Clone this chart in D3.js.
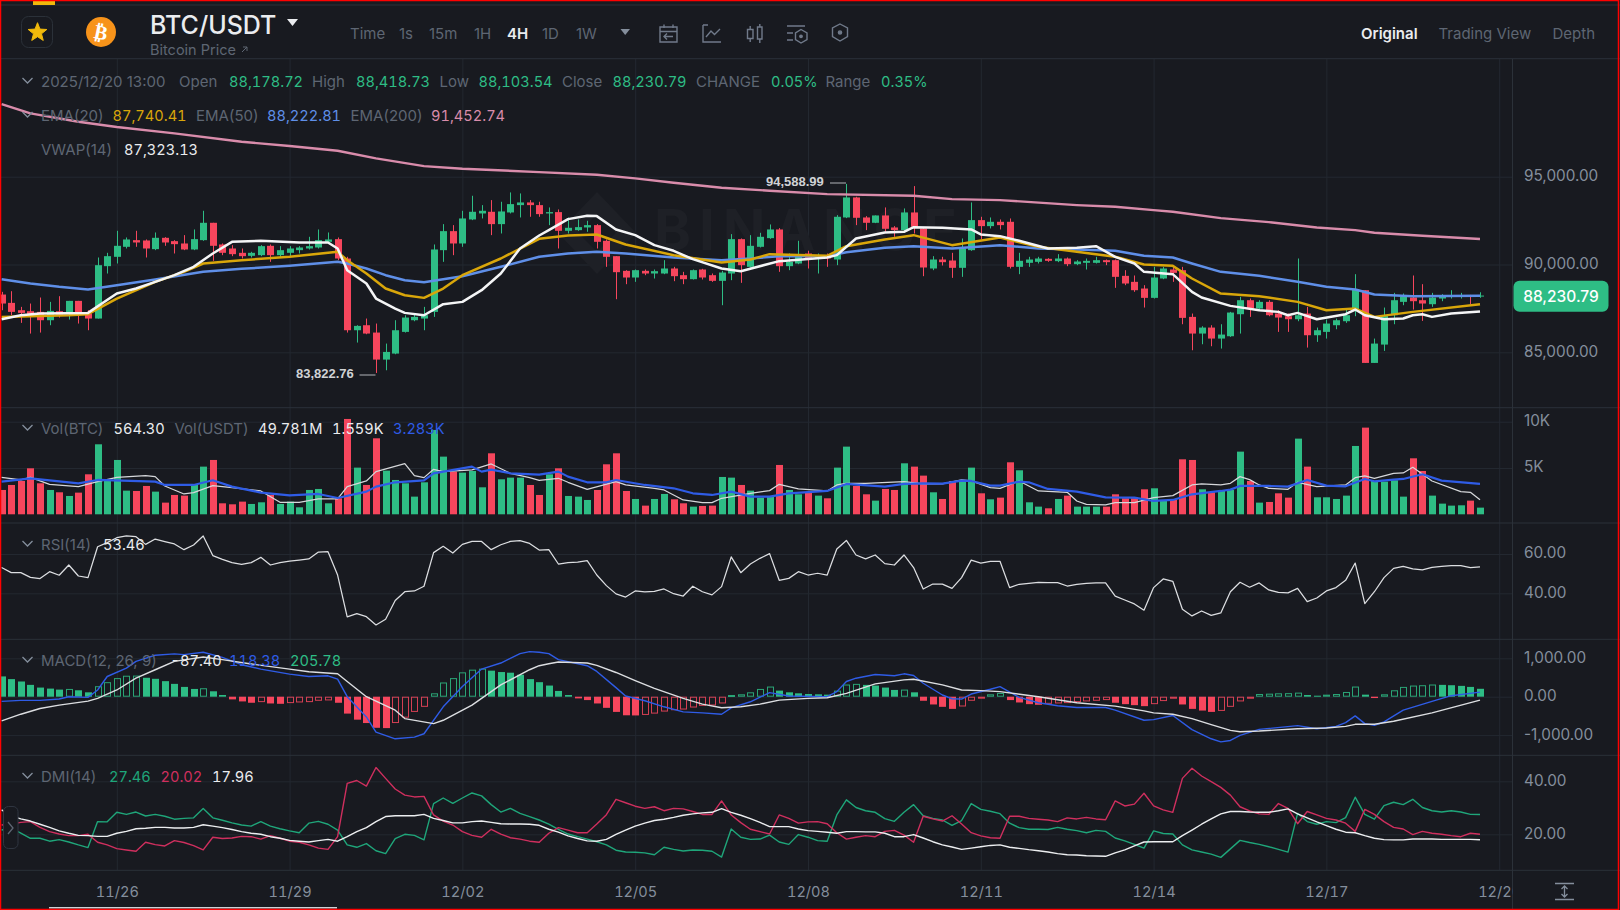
<!DOCTYPE html>
<html><head><meta charset="utf-8">
<script src="https://cdn.jsdelivr.net/npm/d3@7"></script>
<style>
html,body{margin:0;padding:0;background:#181a20;overflow:hidden}
text{font-family:Inter,"Noto Sans",sans-serif}
.tn{font-variant-numeric:tabular-nums}
</style></head><body><svg id="c" width="1620" height="910"></svg>
<script>
const open=[88290,87815,87397,87340,87302,86827,87340,87245,87929,87207,86922,89905,90437,91007,91387,91368,90874,91520,91330,91197,90855,91387,92375,91140,90912,90665,90494,90532,91064,90532,90665,90817,90912,90969,91292,91444,90342,86257,86542,86124,84585,84927,86162,86827,86922,87302,90817,91900,91197,92565,92907,93002,92299,92964,93382,93534,93382,92907,92983,91919,91957,92109,92242,91349,90475,89639,89259,89639,89487,89487,89772,89392,89164,89715,89392,89069,89487,91444,89867,91007,91501,91995,89905,90057,90627,90342,90437,90285,92679,93819,92679,92375,92793,92109,91957,92964,92052,89772,90285,90228,89810,90817,92527,92185,92432,92432,89867,90095,90152,90323,90190,90342,90019,90095,90095,90247,90247,89354,89012,88632,88100,89202,89715,89677,87017,86067,86409,85782,85915,87169,87967,87492,87872,87207,87055,86884,87207,85972,86162,86542,86770,87435,88537,84395,85440,87112,87872,88119,87967,87739,88062,88157,88157,88233,88178.72];
const close=[87777,87302,87245,87112,86827,87359,87150,87929,87207,86922,89962,90475,91064,91425,91254,90912,91520,91254,91159,90855,91444,92375,91064,90665,90589,90475,90665,91045,90532,90817,90912,90969,91045,91387,91425,90342,86257,86504,86067,84585,85022,86257,86979,87017,87112,90855,91900,91197,92622,93002,93059,92299,93021,93439,93534,93382,92869,92983,91919,92090,92128,92242,91292,90437,89563,89259,89677,89487,89620,89772,89335,89164,89677,89259,89069,89544,91444,89962,91064,91577,91995,89905,90152,90589,90342,90437,90342,92717,93819,92660,92375,92793,92033,91957,92964,92147,89829,90285,90133,89810,90912,92527,92185,92432,92242,89867,90209,90285,90342,90209,90342,90019,90171,90209,90247,90133,89297,88917,88537,88100,89259,89772,89525,86960,86067,86409,85782,86010,87264,87967,87492,87872,87112,86979,86884,87112,85972,86257,86637,86827,87112,88575,84395,85497,87112,87967,88157,87910,87777,88119,88176,88252,88233,88157,88230.79];
const high=[88442,88480,87587,87777,88119,87872,88195,87929,87929,87397,90399,90665,91919,91539,91919,91425,91824,91558,91387,91672,91995,93059,92375,91197,91102,90912,90722,91102,91140,91045,91045,91045,91577,91995,91824,91539,90437,86542,86922,86637,85497,86827,87112,87207,87587,91140,92299,92242,93059,93914,93382,93667,93572,94104,94047,93667,93572,93249,93135,92679,92565,92489,92299,91425,90475,89677,89715,89715,89715,90247,89867,89582,89715,89753,89487,89639,91729,91482,91672,91805,92280,92071,90627,91349,90779,90627,90627,92812,94588.99,93857,92755,92793,93249,92185,93192,94465,92109,90475,90437,90665,91482,93534,92717,92679,92565,92622,90665,90437,90437,90361,90589,90399,90247,90342,90437,90285,90285,89677,89373,88822,89867,89867,89867,89867,87207,86485,86542,86599,87302,88157,88062,87967,87967,87397,87207,90342,87587,86409,86865,86922,87492,89449,88537,85782,87549,88385,88347,89373,88879,88385,88309,88537,88385,88271,88418.73];
const low=[87397,87112,86675,86067,86124,86542,86979,86865,86637,86257,86922,89487,90057,90912,91007,90399,90817,91064,90627,90817,90817,91349,90209,90532,90475,90342,90399,90475,90152,90399,90475,90627,90855,90912,91235,90247,86124,85554,86029,83822.76,83977,84889,86124,86770,86257,87017,90152,90532,91007,92527,92622,91672,91767,92907,92679,92717,92717,92242,90912,91767,91919,91862,90912,89867,88024,88879,89012,89392,89202,89449,89050,88879,89145,89145,89012,87682,89107,88955,89829,90969,91463,89582,89677,90019,89772,89487,89867,89962,92641,92242,91957,92356,91862,91577,91919,91767,89335,89677,89943,89240,89297,90779,91425,92052,91995,89772,89449,89867,90057,90152,90133,89905,89962,89715,90057,89962,88670,88822,88442,87549,88062,89164,89012,86599,85117,85459,85345,85212,85877,86067,87017,87397,87055,86162,86162,86770,85269,85592,85782,86314,86675,87055,84395,84395,85079,86599,87682,87435,86789,87587,87910,88062,88062,87739,88103.54];
const volume=[2628,3168,3600,4968,3348,2628,2376,1980,2340,4320,7560,3600,5868,2556,2520,3060,2448,1260,2088,2016,3168,5148,5868,1188,1080,1368,1116,1296,2088,1116,1368,756,2628,2736,1188,1728,10296,5040,3168,8208,4716,3708,3348,1908,3456,9108,6228,4608,4500,4680,2916,6588,3780,3960,3960,3168,2088,4320,4968,1980,1908,1548,2628,5400,6588,2520,1656,936,1656,2196,1620,1188,828,900,936,4032,3960,3168,2556,1800,1908,5328,2628,2160,2376,2016,1728,5040,7308,3060,2160,1476,2736,2628,5508,5148,4176,2376,1656,3600,3708,5040,2268,1620,1800,5616,4752,1296,828,648,1656,2016,828,828,828,828,2160,1728,1728,2700,2808,1548,1548,5940,5868,2700,2376,2520,2628,6768,3600,1260,1332,2268,1800,8172,5148,1836,1836,1656,2016,7380,9360,3600,3528,3672,1908,6048,4680,2016,1152,936,972,1476,720];
const rsi=[53.1,50.5,50.5,48.1,47.5,51.0,49.2,54.4,48.8,48.0,63.7,65.8,68.3,69.2,68.8,64.9,67.6,66.3,65.1,62.2,64.6,69.2,59.2,57.3,55.6,54.7,55.6,58.3,54.4,55.6,56.4,56.9,57.5,61,61.2,49.3,28.0,29.7,28.1,23.9,26.8,36.3,40.8,41.2,43.6,60.7,63.9,60.5,64.9,66.4,66.4,62.2,64.7,66.4,66.8,65.4,62.0,62.2,54.9,55.6,55.9,56.6,49.3,43.9,39.7,38.1,41.2,40.7,41.0,42.2,39.8,38.6,43.6,40.8,39.2,43.4,58.5,50.5,54.9,57.8,60.2,46.6,47.6,51.0,49.3,50.2,49.3,62.5,66.9,59.5,57.5,59.5,55.1,54.4,59.5,53.1,42.2,44.7,44.7,42.5,48.0,56.9,55.4,56.3,56.3,42.9,44.6,45.1,45.6,45.4,45.4,43.7,44.6,45.1,45.3,45.3,38.6,36.6,34.6,31.4,42.9,47.3,46.1,31.9,28.5,31.0,28.8,30.0,40.8,45.6,43.1,45.3,41.7,40.5,40.2,42.5,35.8,37.6,41.2,42.9,46.6,55.4,34.7,40.8,48.0,52.7,53.7,52.4,51.9,53.2,53.7,54.1,54.1,53.1,53.46];
const macdHist=[528,458,396,308,238,211,185,202,167,114,273,378,484,546,550,493,466,405,334,255,202,220,141,44,-70,-123,-158,-141,-176,-185,-167,-150,-141,-106,-97,-158,-440,-598,-686,-810,-818,-686,-546,-396,-264,88,370,484,634,704,730,678,642,625,572,458,378,290,150,44,-44,-88,-176,-290,-396,-484,-488,-475,-440,-387,-352,-334,-282,-238,-229,-176,44,62,114,202,264,158,114,88,70,62,53,158,317,334,308,290,238,176,185,114,-106,-202,-264,-317,-255,-106,-44,62,97,-88,-150,-194,-211,-185,-176,-167,-141,-123,-106,-88,-158,-194,-220,-246,-194,-114,-53,-202,-317,-361,-396,-370,-264,-123,-53,70,79,88,92,106,44,26,53,70,123,264,53,-35,62,167,255,290,299,317,308,299,282,255,205.78];
const dmiPlus=[21.6,22.3,20.4,18.5,18.5,17.4,18.0,17.1,16.0,15.0,24.8,24.7,28.3,27.5,28.4,26.9,27.5,26.8,25.7,26.0,26.2,29.7,26.2,25.3,24.3,23.5,23.1,24.8,23.1,22.1,21.3,20.6,24.2,24.9,23.8,21.6,16.0,15.1,16.5,13.8,12.7,18.4,20.0,19.6,17.9,31.6,33.7,31.7,33.7,35.6,34.5,31.2,28.4,29.8,27.9,26.7,25.4,23.8,21.9,20.1,19.1,18.2,17.2,16.0,14.0,13.3,13.2,13.0,12.3,15.1,14.3,13.7,14.1,14.0,13.6,11.4,22.0,18.9,18.1,18.2,19.7,17.1,16.2,19.9,18.9,17.6,17.4,27.3,33.0,30.1,28.9,28.3,25.9,24.9,28.3,31.2,27.0,26.0,25.4,23.4,25.2,31.6,29.4,28.7,27.8,24.2,22.5,21.9,21.9,21.8,22.6,21.9,21.4,20.6,21.5,21.1,18.6,17.5,16.2,14.8,21.3,20.3,20.1,16.0,14.1,13.3,12.5,11.3,14.5,17.7,16.9,16.2,15.3,14.3,13.3,27.9,24.8,23.8,24.8,24.4,26.3,34.0,27.5,25.7,30.8,32.1,31.2,33.2,30.1,28.9,28.4,28.9,28.4,27.5,27.46];
const dmiMinus=[23.5,23.9,24.5,24.8,22.6,21.0,20.1,19.5,19.5,20.0,17.0,16.0,14.6,14.1,13.6,17.0,16.1,15.6,17.6,16.9,15.7,14.1,18.9,18.4,18.6,19.2,19.1,18.2,19.5,18.5,17.4,17.0,16.0,14.8,14.3,19.1,39.2,40.3,38.2,45.2,41.1,37.1,34.8,34.1,34.3,27.3,25.0,23.5,21.0,19.6,18.9,21.9,20.1,18.7,18.2,17.4,17.0,20.4,22.5,21.6,20.6,20.6,23.9,27.4,33.2,31.9,30.6,29.8,30.4,28.9,29.8,29.6,28.6,27.5,27.5,32.6,27.3,24.4,21.9,21.0,20.1,27.3,26.0,24.2,24.7,24.8,24.0,20.6,18.2,18.9,19.5,19.1,21.1,21.5,19.7,17.0,26.8,25.8,25.0,27.0,23.9,20.6,19.4,18.7,18.5,26.8,26.8,26.0,25.7,25.4,24.8,26.2,25.8,26.4,25.8,25.5,32.6,30.7,31.4,35.5,30.7,29.2,28.3,41.1,44.9,42.0,39.9,37.7,34.8,30.4,28.8,27.7,27.5,31.6,29.8,24.0,28.6,27.3,26.0,25.4,24.2,21.1,29.4,27.5,24.8,22.6,22.0,19.9,21.1,20.4,20.0,19.5,19.1,20.4,20.02];
const dmiAdx=[29.2,26.9,25.8,25.0,23.8,22.6,21.3,20.4,19.6,19.5,19.2,19.2,20.4,21.1,22.1,22.3,22.6,22.6,22.4,22.4,22.6,23.6,23.1,22.5,21.8,21.0,20.4,20.0,19.1,18.5,17.7,17.4,17.1,17.6,18.1,17.4,19.1,21.0,22.5,24.8,26.7,27.0,27.0,27.0,27.5,26.0,25.2,24.3,24.3,24.8,25.0,24.5,24.0,23.9,23.9,23.8,23.4,21.9,20.8,19.4,18.4,17.5,17.4,18.1,20.0,21.6,23.1,24.2,25.2,25.7,26.4,27.2,27.7,28.1,28.3,29.7,28.3,27.2,25.9,24.5,22.9,22.9,22.9,22.0,21.4,21.1,20.8,20.4,21.0,21.0,20.9,20.9,20.4,19.1,19.1,19.9,18.6,17.2,16.0,15.2,14.3,14.8,15.3,15.8,16.0,15.1,14.7,14.2,13.8,13.3,12.7,12.3,12.2,11.9,11.8,11.7,13.0,14.1,15.6,17.1,17.2,17.2,17.2,19.5,21.6,23.8,25.8,27.7,28.6,28.6,28.4,28.3,28.3,28.9,29.6,27.7,26.2,24.7,23.3,21.9,20.8,20.6,19.5,18.5,18.0,17.9,17.9,18.2,18.2,18.2,18.1,18.1,18.1,18.1,17.96];

const ema200Idx=[0,3,8,12,18,25,30,35,39,44,48,56,62,66,70,75,80,86,95,99,104,112,116,120,122,127,132,137,141,143,148,154];
const ema200Val=[99139,98607,98132,97828,97467,96992,96745,96479,96042,95605,95453,95263,95111,94902,94655,94370,94199,94009,93914,93724,93667,93382,93287,93097,93002,92641,92413,92109,91957,91805,91634,91452.74];
const ema50Idx=[0,3,6,9,12,16,21,25,30,35,36,38,40,42,44,48,52,56,59,62,65,70,75,78,81,86,88,92,95,99,104,108,112,116,119,122,124,127,131,135,138,141,143,147,154];
const ema50Val=[89164,88917,88727,88575,88822,89145,89582,89753,89924,90152,90057,89772,89392,89107,88993,89335,89867,90437,90627,90722,90627,90399,90247,90342,90475,90475,90703,90950,91045,90912,91102,90912,90855,90779,90494,90399,90057,89582,89354,89012,88727,88575,88290,88195,88222.81];
const ema20Idx=[0,3,7,9,12,16,19,21,25,30,35,36,38,40,42,44,46,48,52,56,59,62,65,70,75,78,80,86,88,92,95,99,104,108,112,116,119,122,124,127,131,135,138,141,143,147,154];
const ema20Val=[87017,87055,87112,87169,88062,89012,89582,90057,90247,90437,90722,90247,89487,88632,88252,88100,88632,89392,90342,91463,91653,91710,91140,90532,90114,90285,90589,90494,91045,91425,91672,91102,91539,91007,90722,90437,90000,89924,89202,88347,88195,87872,87397,87492,87017,87302,87740.41];
const vwapIdx=[0,2,4,9,12,14,16,18,20,22,24,27,31,34,35,36,38,39,41,42,44,46,48,50,52,54,56,57,59,61,62,64,66,68,70,72,75,77,81,86,87,89,92,94,95,98,101,102,104,106,109,112,114,116,118,119,122,124,125,128,131,133,134,135,137,140,141,142,144,146,147,148,149,151,154];
const vwapVal=[86884,87112,87207,87245,88347,88632,89012,89392,89867,90627,91292,91349,91254,91254,90912,89677,88917,88062,87492,87245,87112,87739,87872,88537,89487,90912,91653,91957,92584,92774,92755,91995,91672,91102,90779,90304,89772,89620,90190,90399,90532,91482,91824,91862,92128,92090,91995,91710,91615,91349,90912,90950,91045,90437,90057,89582,89449,88442,88119,87644,87397,87302,87112,87245,86884,87169,87435,87112,86884,86922,87112,87169,87017,87207,87323.13];
const volMaFastIdx=[0,2,3,5,8,10,12,15,16,17,19,20,22,24,27,29,31,33,35,36,38,39,42,43,44,45,46,49,51,53,55,56,58,59,61,64,65,68,69,71,73,74,75,78,80,81,83,86,87,88,90,94,96,98,100,101,103,104,106,108,111,112,113,115,116,118,120,122,124,125,127,128,129,130,131,132,134,135,137,140,141,142,143,145,146,147,149,152,153,154];
const volMaFastVal=[3996,3708,3996,3240,2988,3528,3996,4176,4068,3060,2196,2340,3096,2880,2520,1296,1296,1656,1656,2988,3600,4608,5472,4176,3960,4860,4608,4788,5436,4428,3960,3672,3888,3456,2700,3528,3168,2808,2628,1548,1260,1260,1728,2268,2556,3240,2736,2520,3168,3348,3348,3528,3276,3276,3708,3600,2880,2808,3600,2520,2376,1440,1080,1008,1260,1260,1800,2016,3168,3276,3168,3348,4068,3744,3168,2808,2700,3456,2988,3168,3960,4140,3888,4428,4464,5076,3600,2448,2376,1559];
const volMaSlowIdx=[0,3,5,8,10,16,17,20,22,24,27,30,33,35,38,39,41,44,45,49,50,51,53,56,58,59,61,63,64,67,70,72,74,76,78,80,82,86,88,92,94,96,98,100,101,103,104,106,107,109,112,115,118,120,122,124,127,128,129,132,134,136,138,140,142,143,145,146,148,150,154];
const volMaSlowVal=[3528,3888,3672,3348,3708,3528,3168,3168,3672,2988,2340,2052,2196,1764,2448,2988,3456,3672,4428,5148,4608,4824,4428,4284,4608,4068,3456,3456,3708,3168,2808,2268,2088,2448,1908,1908,2268,2520,3276,2988,3276,3348,3312,3636,3600,3096,3096,3528,3456,2736,2448,1836,1800,1440,1548,2160,2520,2664,3060,3060,2988,3708,3096,3024,3816,3564,3744,3816,4320,3636,3283];
const macdDifIdx=[0,2,4,6,7,9,10,11,13,14,16,18,19,21,23,25,27,30,32,34,35,36,38,39,41,43,44,46,48,50,52,54,55,56,57,58,61,62,64,65,67,69,71,73,75,76,78,80,82,86,87,88,89,91,93,94,95,96,98,99,100,101,103,104,106,108,110,112,115,116,119,120,122,124,126,127,128,129,131,135,137,139,140,141,142,143,144,146,149,151,154];
const macdDifVal=[-123,-96,-96,-61,0,-18,175,526,745,921,1079,1114,1096,1158,1026,833,719,588,526,544,456,0,-526,-921,-1096,-1052,-965,-263,263,719,877,1123,1175,1158,1123,965,807,658,237,18,-105,-263,-395,-421,-456,-289,-132,105,18,0,132,395,482,579,544,596,553,351,44,-53,-61,70,193,263,-18,-158,-237,-281,-281,-351,-614,-596,-491,-859,-1096,-1175,-1140,-1009,-851,-754,-833,-772,-675,-500,-702,-745,-658,-351,-123,26,118.38];
const macdDeaIdx=[0,2,4,6,9,10,12,14,16,18,21,23,26,30,32,35,36,38,41,42,45,46,49,52,55,56,57,58,61,62,64,66,68,71,73,75,77,79,81,84,86,88,91,94,95,98,100,102,104,108,112,116,119,120,122,124,126,128,129,131,135,138,140,141,143,145,149,154];
const macdDeaVal=[-631,-456,-307,-219,-114,-44,175,482,702,921,1035,965,851,719,649,596,395,0,-351,-570,-702,-614,-219,307,702,807,859,903,877,816,631,421,219,-44,-193,-289,-263,-193,-88,-44,-26,88,333,438,456,307,175,158,132,0,-158,-246,-368,-421,-456,-570,-728,-877,-912,-895,-833,-816,-772,-719,-719,-640,-421,-87.4];

const xTickIdx=[12,30,48,66,84,102,120,138,156];
const xTickLabels=["11/26","11/29","12/02","12/05","12/08","12/11","12/14","12/17","12/20"];
const priceTicks=[85000,90000,95000];
const volumeTicks=[5000,10000];
const rsiTicks=[40,60];
const macdTicks=[-1000,0,1000];
const dmiTicks=[20,40];

const C={bg:"#181a20",grid:"#232830",sep:"#2b3139",up:"#2ebd85",dn:"#f6465d",ema20:"#d9a60a",ema50:"#5f8fe8",ema200:"#d98cab",blue:"#2f5ce6",dGreen:"#1fa67a",dRed:"#cf2f5e",label:"#5e6673",axis:"#848e9c",white:"#eaecef"};
const W=1620,H=910,plotR=1512.5;
const svg=d3.select("#c");
const defs=svg.append("defs");
defs.append("clipPath").attr("id","plot").append("rect").attr("x",1).attr("y",59).attr("width",plotR-1).attr("height",812);
defs.append("clipPath").attr("id","xlab").append("rect").attr("x",1).attr("y",871).attr("width",plotR-1).attr("height",38);
svg.append("rect").attr("width",W).attr("height",H).attr("fill",C.bg);

const n=close.length;
const idx=d3.range(n);
const x=d3.scaleLinear().domain([0,154]).range([1.6,1480]);
const yP=d3.scaleLinear().domain([85000,95000]).range([352.3,176.7]);
const yV=d3.scaleLinear().domain([0,5000]).range([514.3,468]);
const yR=d3.scaleLinear().domain([40,60]).range([593.3,554]);
const yM=d3.scaleLinear().domain([0,1000]).range([696.7,658.3]);
const yD=d3.scaleLinear().domain([20,40]).range([834.3,781.3]);
const panels=[[yP,priceTicks,d3.format(",.2f")],[yV,volumeTicks,d=>(d/1000)+"K"],[yR,rsiTicks,d3.format(".2f")],[yM,macdTicks,d=>d3.format(",.2f")(d).replace("−","-")],[yD,dmiTicks,d3.format(".2f")]];

// grid through axes
const gridX=svg.append("g").attr("transform","translate(0,59)").call(d3.axisBottom(x).tickValues(xTickIdx).tickSize(811).tickFormat(""));
gridX.select(".domain").remove();
gridX.selectAll("line").attr("stroke",C.grid);
panels.forEach(([s,t,f])=>{
  const g=svg.append("g").attr("transform",`translate(${plotR},0)`).call(d3.axisLeft(s).tickValues(t).tickSize(plotR).tickFormat(""));
  g.select(".domain").remove(); g.selectAll("line").attr("stroke",C.grid);
  const a=svg.append("g").attr("transform","translate(1524,0)").call(d3.axisRight(s).tickValues(t).tickSize(0).tickPadding(0).tickFormat(f));
  a.select(".domain").remove();
  a.selectAll("text").attr("fill",C.axis).attr("font-size",15.3).attr("dy","0.26em");
});
// chrome lines
const seps=[5,58.7,407.7,523,639.3,755.3,870.3];
svg.append("g").selectAll("line").data(seps).join("line").attr("x1",0).attr("x2",W).attr("y1",d=>d).attr("y2",d=>d).attr("stroke",C.sep);
svg.append("line").attr("x1",plotR).attr("x2",plotR).attr("y1",59).attr("y2",H).attr("stroke",C.sep);

// watermark
const wm=svg.append("g").attr("fill","#1e2026");
wm.append("path").attr("d","M597 192 L636 233 L597 274 L558 233Z M597 214 L578 233 L597 252 L616 233Z").attr("fill-rule","evenodd");
wm.append("text").attr("x",654).attr("y",250).attr("font-size",56).attr("font-weight",700).attr("textLength",303).text("BINANCE");

const plot=svg.append("g").attr("clip-path","url(#plot)");
const col=i=>close[i]>=open[i]?C.up:C.dn;
const bw=7;
// candles
const cg=plot.append("g");
cg.selectAll("line").data(idx).join("line")
 .attr("x1",i=>Math.round(x(i))+.5).attr("x2",i=>Math.round(x(i))+.5)
 .attr("y1",i=>yP(high[i])).attr("y2",i=>yP(low[i])).attr("stroke",col);
cg.selectAll("rect").data(idx).join("rect")
 .attr("x",i=>Math.round(x(i))-3).attr("width",bw)
 .attr("y",i=>yP(Math.max(open[i],close[i])))
 .attr("height",i=>Math.max(1,Math.abs(yP(open[i])-yP(close[i])))).attr("fill",col);
// price lines
const sparse=(a,b)=>d3.zip(a,b);
const path=(g,data,ys,color,w,op)=>g.append("path").datum(data).attr("fill","none").attr("stroke",color).attr("stroke-width",w).attr("stroke-linejoin","round").attr("opacity",op||1)
  .attr("d",d3.line().x(d=>x(d[0])).y(d=>ys(d[1])));
path(plot,sparse(ema200Idx,ema200Val),yP,C.ema200,2.4);
path(plot,sparse(ema50Idx,ema50Val),yP,C.ema50,2.5);
path(plot,sparse(ema20Idx,ema20Val),yP,C.ema20,2.5);
path(plot,sparse(vwapIdx,vwapVal),yP,"#f4f5f6",2.5);

// volume
plot.append("g").selectAll("rect").data(idx).join("rect")
 .attr("x",i=>Math.round(x(i))-3).attr("width",bw).attr("y",i=>yV(volume[i])).attr("height",i=>yV(0)-yV(volume[i])).attr("fill",col);
path(plot,sparse(volMaFastIdx,volMaFastVal),yV,"#d5d7da",1.25);
path(plot,sparse(volMaSlowIdx,volMaSlowVal),yV,C.blue,2.2);

// RSI
path(plot,idx.map(i=>[i,rsi[i]]),yR,"#dcdee1",1.25);

// MACD hist
plot.append("g").selectAll("rect").data(idx).join("rect").each(function(i){
  const v=macdHist[i],c=v>=0?C.up:C.dn,rising=i>0&&v>macdHist[i-1];
  const y0=yM(Math.max(v,0)),h=Math.max(1,Math.abs(yM(v)-yM(0)));
  const s=d3.select(this).attr("x",Math.round(x(i))-3+(rising?.5:0)).attr("width",rising?bw-1:bw).attr("y",y0+(rising?.5:0)).attr("height",rising?Math.max(1,h-1):h);
  if(rising) s.attr("fill","none").attr("stroke",c).attr("stroke-opacity",.85).attr("stroke-width",1);
  else s.attr("fill",c);
});
path(plot,sparse(macdDifIdx,macdDifVal),yM,C.blue,1.4);
path(plot,sparse(macdDeaIdx,macdDeaVal),yM,"#dcdee1",1.4);

// DMI
path(plot,idx.map(i=>[i,dmiPlus[i]]),yD,C.dGreen,1.4);
path(plot,idx.map(i=>[i,dmiMinus[i]]),yD,C.dRed,1.4);
path(plot,idx.map(i=>[i,dmiAdx[i]]),yD,"#eceef0",1.4);

// x axis labels
const xa=svg.append("g").attr("clip-path","url(#xlab)").append("g").attr("transform","translate(0,887)")
 .call(d3.axisBottom(x).tickValues(xTickIdx).tickSize(0).tickPadding(0).tickFormat((d,i)=>xTickLabels[i]));
xa.select(".domain").remove();
xa.selectAll("text").attr("class","tn").attr("fill",C.axis).attr("font-size",14.6).attr("dy","0.71em");

// hi / lo notes
const note=(tx,lx1,lx2,y,t)=>{
  svg.append("text").attr("x",tx).attr("y",y+2.5).attr("font-size",13).attr("font-weight",700).attr("fill","#d0d2d5").style("font-family","'Liberation Sans'").text(t);
  svg.append("line").attr("x1",lx1).attr("x2",lx2).attr("y1",y).attr("y2",y).attr("stroke","#b0b3b8");
};
note(766,830,846,183,"94,588.99");
note(296,359.5,375.5,375,"83,822.76");

// legends
const lg=svg.append("g");
const T=(px,py,t,c)=>{
  const isVal=c!==C.label;
  lg.append("text").attr("class",isVal?"tn":null).attr("x",px).attr("y",py).attr("font-size",isVal?14.6:15).attr("fill",c).attr("dy","0.35em").text(t);
};
const chev=(py)=>lg.append("path").attr("d",`M22.5 ${py-3} L27.5 ${py+2} L32.5 ${py-3}`).attr("fill","none").attr("stroke",C.axis).attr("stroke-width",1.3);
chev(81);
[[41,"2025/12/20 13:00",C.label],[179,"Open",C.label],[229,"88,178.72",C.up],[312,"High",C.label],[356,"88,418.73",C.up],[439.5,"Low",C.label],[478.5,"88,103.54",C.up],[562,"Close",C.label],[612.5,"88,230.79",C.up],[696,"CHANGE",C.label],[771,"0.05%",C.up],[825.5,"Range",C.label],[881,"0.35%",C.up]].forEach(d=>T(d[0],82,d[1],d[2]));
chev(115);
[[41,"EMA(20)",C.label],[112.5,"87,740.41",C.ema20],[196,"EMA(50)",C.label],[267,"88,222.81",C.ema50],[350.5,"EMA(200)",C.label],[431,"91,452.74",C.ema200]].forEach(d=>T(d[0],116,d[1],d[2]));
[[41,"VWAP(14)",C.label],[124,"87,323.13",C.white]].forEach(d=>T(d[0],150,d[1],d[2]));
chev(428);
[[41,"Vol(BTC)",C.label],[113.5,"564.30",C.white],[174.5,"Vol(USDT)",C.label],[258,"49.781M",C.white],[332,"1.559K",C.white],[393,"3.283K",C.blue]].forEach(d=>T(d[0],429,d[1],d[2]));
chev(544);
[[41,"RSI(14)",C.label],[103,"53.46",C.white]].forEach(d=>T(d[0],545,d[1],d[2]));
chev(660);
[[41,"MACD(12, 26, 9)",C.label],[170.5,"-87.40",C.white],[229,"118.38",C.blue],[290,"205.78",C.up]].forEach(d=>T(d[0],661,d[1],d[2]));
chev(776);
[[41,"DMI(14)",C.label],[109,"27.46",C.dGreen],[160.5,"20.02",C.dRed],[212,"17.96",C.white]].forEach(d=>T(d[0],777,d[1],d[2]));

// price tag
svg.append("rect").attr("x",1513.5).attr("y",280.7).attr("width",95).attr("height",31).attr("rx",6).attr("fill",C.up);
svg.append("text").attr("x",1561).attr("y",297).attr("text-anchor","middle").attr("dy","0.33em").attr("font-size",15.5).attr("font-weight",500).attr("fill","#fff").text("88,230.79");

// header
const hd=svg.append("g");
hd.append("rect").attr("x",21.5).attr("y",16.5).attr("width",31).attr("height",31).attr("rx",7).attr("fill","none").attr("stroke",C.sep);
const star=d3.range(10).map(k=>{const r=k%2?4.2:9.8,a=-Math.PI/2+k*Math.PI/5;return [37.5+r*Math.cos(a),32.5+r*Math.sin(a)]});
hd.append("path").attr("d","M"+star.join("L")+"Z").attr("fill","#f0b90b").attr("stroke","#f0b90b").attr("stroke-linejoin","round");
hd.append("circle").attr("cx",101).attr("cy",32).attr("r",15).attr("fill","#f7931a");
hd.append("text").attr("x",101).attr("y",32).attr("text-anchor","middle").attr("dy","0.36em").attr("font-size",20).attr("font-weight",700).attr("fill","#fff").attr("transform","rotate(12 101 32)").style("font-family","'DejaVu Sans'").text("₿");
hd.append("text").attr("x",150).attr("y",25).attr("dy","0.35em").attr("font-size",25).attr("font-weight",500).attr("fill",C.white).text("BTC/USDT");
hd.append("path").attr("d","M287 19 L298 19 L292.5 26Z").attr("fill",C.white);
hd.append("text").attr("x",150).attr("y",50).attr("dy","0.35em").attr("font-size",14.5).attr("fill",C.label).text("Bitcoin Price");
hd.append("path").attr("d","M242 52 L247 47 M243 47 L247 47 L247 51").attr("fill","none").attr("stroke",C.label);
[[350,"Time",C.label],[399,"1s",C.label],[429,"15m",C.label],[474,"1H",C.label],[507,"4H",C.white],[542,"1D",C.label],[576,"1W",C.label]].forEach(d=>hd.append("text").attr("x",d[0]).attr("y",34).attr("dy","0.35em").attr("font-size",15).attr("font-weight",d[1]=="4H"?600:400).attr("fill",d[2]).text(d[1]));
hd.append("path").attr("d","M620.5 29 L630 29 L625.2 35Z").attr("fill",C.axis);
const ic=hd.append("g").attr("fill","none").attr("stroke","#707a8a").attr("stroke-width",1.4);
ic.append("path").attr("d","M660 27 H677 V42 H660 Z M660 31.5 H677 M664 24.5 V28 M673 24.5 V28 M673 36.5 H664 M667 33.5 L664 36.5 L667 39.5");
ic.append("path").attr("d","M703 25 V42 H721 M706 37 L711 31 L714.5 34.5 L720 29 M703 25 L708 25");
ic.append("path").attr("d","M747.5 29.5 H753 V38.5 H747.5 Z M750.2 26 V29.5 M750.2 38.5 V42 M757.5 27 H762 V39 H757.5 Z M759.8 24 V27 M759.8 39 V43");
ic.append("path").attr("d","M787 26 H805 M787 33 H793 M787 40 H793 M801 29.5 L807 33 V39.5 L801 43 L795.5 39.5 V33 Z");
ic.append("circle").attr("cx",801).attr("cy",36.3).attr("r",1.2).attr("fill","#707a8a");
ic.append("path").attr("d","M840 24 L847.5 28 V36.5 L840 41 L832.5 36.5 V28 Z");
ic.append("circle").attr("cx",840).attr("cy",32.5).attr("r",1.6).attr("fill","#707a8a");
[[1361,"Original",C.white,600],[1438.5,"Trading View",C.label,400],[1552.5,"Depth",C.label,400]].forEach(d=>hd.append("text").attr("x",d[0]).attr("y",34).attr("dy","0.35em").attr("font-size",15).attr("font-weight",d[3]).attr("fill",d[2]).text(d[1]));

// left handle
svg.append("rect").attr("x",3.5).attr("y",806.5).attr("width",14.5).attr("height",42).attr("rx",5).attr("fill",C.bg).attr("stroke","#2f3540");
svg.append("path").attr("d","M8 822 L13 828 L8 834").attr("fill","none").attr("stroke","#5e6673").attr("stroke-width",1.3);
// fit icon
svg.append("path").attr("d","M1555 883.5 H1574 M1555 899.5 H1574 M1564.5 886 V897 M1561.5 889 L1564.5 886 L1567.5 889 M1561.5 894 L1564.5 897 L1567.5 894").attr("fill","none").attr("stroke","#848e9c").attr("stroke-width",1.3);
// screenshot frame
svg.append("rect").attr("x",33).attr("y",0).attr("width",22).attr("height",5).attr("fill","#f0b90b");
svg.append("rect").attr("x",49).attr("y",907).attr("width",288).attr("height",1.5).attr("fill","#cfd2d6");
svg.append("rect").attr("x",.5).attr("y",.5).attr("width",W-2).attr("height",H-1).attr("fill","none").attr("stroke","#ff0000").attr("stroke-width",1.5);
</script></body></html>
